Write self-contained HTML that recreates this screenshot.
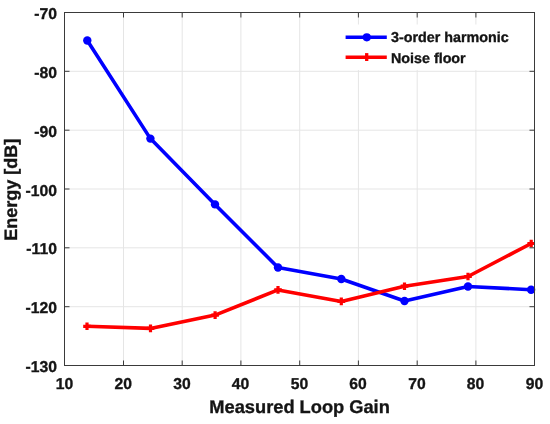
<!DOCTYPE html>
<html><head><meta charset="utf-8"><title>Energy vs Measured Loop Gain</title>
<style>html,body{margin:0;padding:0;background:#fff;}svg{display:block;}text{text-rendering:geometricPrecision;font-family:"Liberation Sans",Arial,Helvetica,sans-serif;font-weight:bold;fill:#141414;stroke:#141414;stroke-width:0.35px;}</style></head>
<body>
<svg width="550" height="424" viewBox="0 0 550 424">
<rect width="550" height="424" fill="#fff"/>
<g stroke="#e5e5e5" stroke-width="1" fill="none">
<line x1="123.5" y1="12.5" x2="123.5" y2="365.5"/>
<line x1="182.2" y1="12.5" x2="182.2" y2="365.5"/>
<line x1="240.9" y1="12.5" x2="240.9" y2="365.5"/>
<line x1="299.7" y1="12.5" x2="299.7" y2="365.5"/>
<line x1="358.4" y1="12.5" x2="358.4" y2="365.5"/>
<line x1="417.2" y1="12.5" x2="417.2" y2="365.5"/>
<line x1="475.9" y1="12.5" x2="475.9" y2="365.5"/>
<line x1="64.5" y1="71.3" x2="534.5" y2="71.3"/>
<line x1="64.5" y1="130.2" x2="534.5" y2="130.2"/>
<line x1="64.5" y1="189.0" x2="534.5" y2="189.0"/>
<line x1="64.5" y1="247.8" x2="534.5" y2="247.8"/>
<line x1="64.5" y1="306.7" x2="534.5" y2="306.7"/>
</g>
<polyline fill="none" stroke="#0000ff" stroke-width="3.6" stroke-linejoin="round" points="87.3,40.5 150.4,138.6 215.0,204.4 278.0,267.5 341.3,279.0 404.5,301.0 468.0,286.5 531.1,289.7"/>
<g fill="#0000ff"><circle cx="87.3" cy="40.5" r="4.2"/><circle cx="150.4" cy="138.6" r="4.2"/><circle cx="215.0" cy="204.4" r="4.2"/><circle cx="278.0" cy="267.5" r="4.2"/><circle cx="341.3" cy="279.0" r="4.2"/><circle cx="404.5" cy="301.0" r="4.2"/><circle cx="468.0" cy="286.5" r="4.2"/><circle cx="531.1" cy="289.7" r="4.2"/></g>
<polyline fill="none" stroke="#ff0000" stroke-width="3.6" stroke-linejoin="round" points="87.0,326.3 150.5,328.4 215.1,315.1 278.0,289.9 341.3,301.4 404.5,286.2 468.0,276.5 531.2,243.5"/>
<g stroke="#ff0000" stroke-width="3.2" fill="none"><path d="M83.2,326.3H90.8M87.0,322.5V330.1"/><path d="M146.7,328.4H154.3M150.5,324.59999999999997V332.2"/><path d="M211.29999999999998,315.1H218.9M215.1,311.3V318.90000000000003"/><path d="M274.2,289.9H281.8M278.0,286.09999999999997V293.7"/><path d="M337.5,301.4H345.1M341.3,297.59999999999997V305.2"/><path d="M400.7,286.2H408.3M404.5,282.4V290.0"/><path d="M464.2,276.5H471.8M468.0,272.7V280.3"/><path d="M527.4000000000001,243.5H535.0M531.2,239.7V247.3"/></g>
<rect x="340" y="24.5" width="173" height="45.6" fill="#fff"/>
<line x1="345.6" y1="37.3" x2="386.8" y2="37.3" stroke="#0000ff" stroke-width="3.6"/><circle cx="366.8" cy="37.3" r="4.1" fill="#0000ff"/>
<line x1="345.6" y1="57.2" x2="386.8" y2="57.2" stroke="#ff0000" stroke-width="3.6"/><path d="M366.7,53.1V61" stroke="#ff0000" stroke-width="3.3"/>
<text x="391" y="42.45" font-size="14.3">3-order harmonic</text>
<text x="391" y="62.8" font-size="14.3">Noise floor</text>
<g stroke="#3a3a3a" stroke-width="1" fill="none"><rect x="64.5" y="12.5" width="470.0" height="353.0"/>
<path d="M123.5,365.5v-5M123.5,12.5v5"/>
<path d="M182.2,365.5v-5M182.2,12.5v5"/>
<path d="M240.9,365.5v-5M240.9,12.5v5"/>
<path d="M299.7,365.5v-5M299.7,12.5v5"/>
<path d="M358.4,365.5v-5M358.4,12.5v5"/>
<path d="M417.2,365.5v-5M417.2,12.5v5"/>
<path d="M475.9,365.5v-5M475.9,12.5v5"/>
<path d="M64.5,71.3h5M534.5,71.3h-5"/>
<path d="M64.5,130.2h5M534.5,130.2h-5"/>
<path d="M64.5,189.0h5M534.5,189.0h-5"/>
<path d="M64.5,247.8h5M534.5,247.8h-5"/>
<path d="M64.5,306.7h5M534.5,306.7h-5"/>
</g>
<g font-size="15.7" text-anchor="middle">
<text x="64.4" y="389.4">10</text>
<text x="123.2" y="389.4">20</text>
<text x="181.9" y="389.4">30</text>
<text x="240.6" y="389.4">40</text>
<text x="299.4" y="389.4">50</text>
<text x="358.1" y="389.4">60</text>
<text x="416.9" y="389.4">70</text>
<text x="475.6" y="389.4">80</text>
<text x="534.4" y="389.4">90</text>
</g><g font-size="15.7" text-anchor="end">
<text x="56.9" y="19.0">-70</text>
<text x="56.9" y="77.8">-80</text>
<text x="56.9" y="136.7">-90</text>
<text x="56.9" y="195.5">-100</text>
<text x="56.9" y="254.3">-110</text>
<text x="56.9" y="313.2">-120</text>
<text x="56.9" y="372.0">-130</text>
</g>
<text x="299.6" y="412.5" font-size="18.25" text-anchor="middle">Measured Loop Gain</text>
<text transform="translate(17.2,189.7) rotate(-90)" font-size="18" text-anchor="middle">Energy [dB]</text>
</svg>
</body></html>
